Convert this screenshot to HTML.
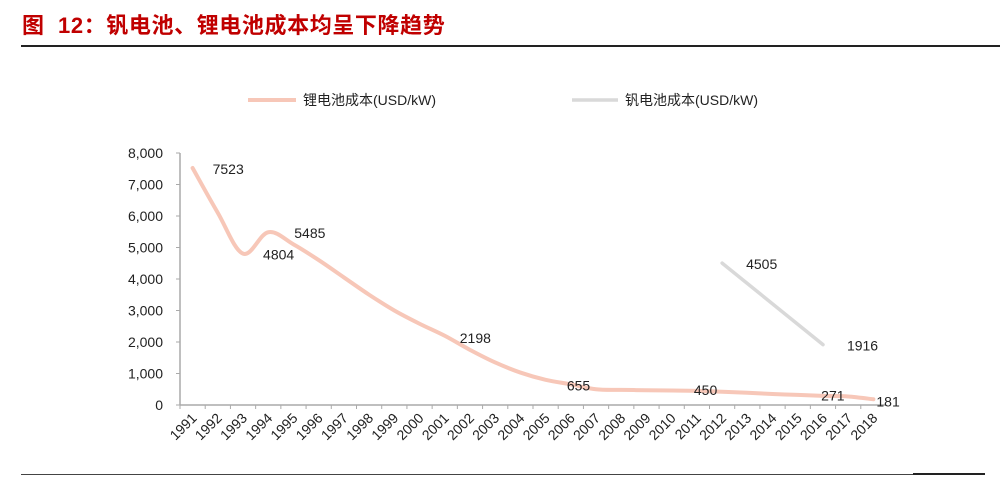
<!DOCTYPE html>
<html><head><meta charset="utf-8"><style>
body{margin:0;width:1000px;height:481px;background:#fff;overflow:hidden;font-family:"Liberation Sans","Noto Sans CJK SC",sans-serif;}
</style></head><body>
<div style="position:absolute;left:22px;top:8px;font-size:22px;letter-spacing:0.6px;font-weight:bold;color:#c00000;font-family:'Liberation Sans','Noto Sans CJK SC',sans-serif;">图&nbsp; 12：钒电池、锂电池成本均呈下降趋势</div>
<div style="position:absolute;left:21px;top:45px;width:979px;height:2px;background:#222;"></div>
<div style="position:absolute;left:21px;top:474px;width:964px;height:1px;background:#444;"></div>
<div style="position:absolute;left:913px;top:473px;width:72px;height:2px;background:#222;"></div>
<svg id="c" width="1000" height="481" style="position:absolute;left:0;top:0"></svg>
<script>
const years=[1991,1992,1993,1994,1995,1996,1997,1998,1999,2000,2001,2002,2003,2004,2005,2006,2007,2008,2009,2010,2011,2012,2013,2014,2015,2016,2017,2018];
const liValues=[7523,6100,4804,5485,5100,4600,4050,3500,3000,2580,2198,1750,1350,1030,800,655,500,480,470,460,450,420,390,350,320,290,271,181];
const liLabelYears=[1991,1993,1994,2001,2006,2011,2017,2018];
const vYears=[2012,2016];
const vValues=[4505,1916];
const yTicks=[0,1000,2000,3000,4000,5000,6000,7000,8000];
const NS="http://www.w3.org/2000/svg";
const svg=document.getElementById('c');
const x0=180,x1=886,y0=405,y1=153,ymax=8000;
const step=(x1-x0)/years.length;
const X=yr=>x0+step*(years.indexOf(yr)+0.5);
const Y=v=>y0-(v/ymax)*(y0-y1);
function mk(t,a){const e=document.createElementNS(NS,t);for(const k in a)e.setAttribute(k,a[k]);svg.appendChild(e);return e;}
function txt(s,a){const e=mk('text',a);e.textContent=s;return e;}
function smooth(pts){let d=`M${pts[0][0]},${pts[0][1]}`;for(let i=0;i<pts.length-1;i++){const p0=pts[i-1]||pts[i],p1=pts[i],p2=pts[i+1],p3=pts[i+2]||p2;const t=0.17;d+=` C${p1[0]+(p2[0]-p0[0])*t},${p1[1]+(p2[1]-p0[1])*t} ${p2[0]-(p3[0]-p1[0])*t},${p2[1]-(p3[1]-p1[1])*t} ${p2[0]},${p2[1]}`;}return d;}
let ax=mk('line',{x1:x0,y1:y1,x2:x0,y2:y0,stroke:'#aaa','stroke-width':1.5});

let bx=mk('line',{x1:x0,y1:y0,x2:x1,y2:y0,stroke:'#aaa','stroke-width':1.5});

yTicks.forEach(v=>{const tk=mk('line',{x1:x0-4,x2:x0,y1:Y(v),y2:Y(v),stroke:'#aaa'});

const l=txt(v.toLocaleString('en-US'),{x:x0-17,y:Y(v)+5,'text-anchor':'end','font-size':14,fill:'#222'});
});
years.forEach(yr=>{const x=X(yr);const tk=mk('line',{x1:x-step/2,x2:x-step/2,y1:y0,y2:y0+4,stroke:'#aaa'});

const l=txt(String(yr),{x:x+5,y:y0+14,'text-anchor':'end','font-size':14,fill:'#222',transform:`rotate(-45 ${x+5} ${y0+14})`});
});
const lp=mk('path',{d:smooth(years.map((yr,i)=>[X(yr),Y(liValues[i])])),fill:'none',stroke:'#f7c7b8','stroke-width':4,'stroke-linecap':'round'});

liLabelYears.forEach(yr=>{const v=liValues[years.indexOf(yr)];let x=X(yr)+10,y=Y(v)+6;
if(yr===1991){x=X(yr)+20;y=Y(v)+6;}if(yr===1993){x=X(yr)+20;y=Y(v)+6;}if(yr===1994){x=X(yr)+26;y=Y(v)+6;}
if(yr===2001){x=X(yr)+15;y=Y(v)+7;}if(yr===2006){x=X(yr)-4;y=Y(v)+6;}if(yr===2011){x=X(yr)-3;y=Y(v)+4;}if(yr===2017){x=X(yr)-27;y=Y(v)+4;}if(yr===2018){x=X(yr)+3;y=Y(v)+7;}
const l=txt(String(v),{x:x,y:y,'font-size':14,fill:'#222'});
});
const vp=mk('path',{d:`M${X(vYears[0])},${Y(vValues[0])} L${X(vYears[1])},${Y(vValues[1])}`,fill:'none',stroke:'#d9d9d9','stroke-width':3.5,'stroke-linecap':'round'});

vYears.forEach((yr,i)=>{const l=txt(String(vValues[i]),{x:X(yr)+24,y:Y(vValues[i])+6,'font-size':14,fill:'#222'});
});
const g1=mk('line',{x1:248,x2:296,y1:100,y2:100,stroke:'#f7c7b8','stroke-width':4});

const t1=txt('锂电池成本(USD/kW)',{x:303,y:105,'font-size':14,fill:'#222'});

const g2=mk('line',{x1:572,x2:618,y1:100,y2:100,stroke:'#d9d9d9','stroke-width':3.5});

const t2=txt('钒电池成本(USD/kW)',{x:625,y:105,'font-size':14,fill:'#222'});

</script>
</body></html>
